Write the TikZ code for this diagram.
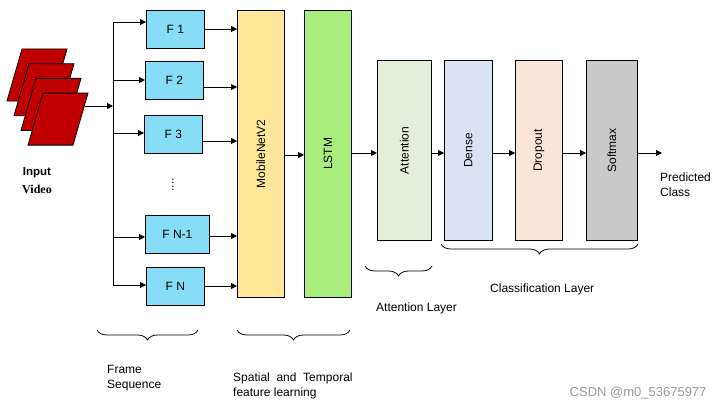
\documentclass[tikz,border=0pt]{standalone}
\usepackage{fontspec}
\setmainfont{Liberation Sans}
\newfontfamily\serifv{Liberation Serif}
\usetikzlibrary{arrows.meta,decorations.pathreplacing}
\definecolor{framered}{HTML}{C00000}
\definecolor{fbox}{HTML}{87DDF5}
\definecolor{mobc}{HTML}{FFE699}
\definecolor{lstmc}{HTML}{A9EE7D}
\definecolor{attc}{HTML}{E2EFDA}
\definecolor{densec}{HTML}{DAE3F3}
\definecolor{dropc}{HTML}{FBE5D6}
\definecolor{softc}{HTML}{C9C9C9}
\begin{document}
\begin{tikzpicture}[x=1pt,y=-1pt,font=\fontsize{12}{15}\selectfont,
  arr/.style={-{Triangle[length=6pt,width=6pt]},line width=0.9pt},
  fr/.style={draw=black,fill=fbox,thick,minimum width=58pt,minimum height=38pt,anchor=north west,inner sep=0pt},
  blk/.style={draw=black,thick,minimum width=#1,anchor=north west,inner sep=0pt},
  vtext/.style={rotate=90},
  frame/.style={draw=black,fill=framered,thick},
  brace/.style={decorate,decoration={brace,amplitude=10pt,mirror},thick}]
\useasboundingbox (0,0) rectangle (723,412);
% input frames
\foreach \i in {0,1,2,3}{
  \draw[frame] ({22+7*\i},{49+14.7*\i}) -- ++(45,0) -- ++(-15,52) -- ++(-45,0) -- cycle;}
\coordinate (vid) at (85,106);
\coordinate (split) at (113,106);
\node[font=\fontsize{11.5}{13}\selectfont\bfseries] (in) at (37,173) {Input};
\node[font=\fontsize{12}{13}\serifv\bfseries] (vd) at (37,189) {Video};
\draw[arr] (vid) -- (split);
% frame boxes
\node[fr] (f1) at (146,10) {F 1};
\node[fr] (f2) at (145,61) {F 2};
\node[fr] (f3) at (144,115) {F 3};
\node[fr,minimum width=64pt] (f4) at (145,215) {F N-1};
\node[fr] (f5) at (146,267) {F N};
\node[inner sep=0pt,rotate=90] (dots) at (173,185) {....};
\draw[thick] (113,22) -- (113,285);
\foreach \n/\y in {f1/22,f2/80,f3/133,f4/237,f5/285}{
  \coordinate (b\n) at (113,\y);
  \draw[arr] (b\n) -- (\n.west |- b\n);}
% main blocks
\node[blk=47pt,fill=mobc,minimum height=287pt] (mob) at (237,10) {};
\node[vtext] at (mob.center) {MobileNetV2};
\node[blk=47pt,fill=lstmc,minimum height=287pt] (lstm) at (304,10) {};
\node[vtext] at (lstm.center) {LSTM};
\node[blk=54pt,fill=attc,minimum height=180pt] (att) at (377,60) {};
\node[vtext] at (att.center) {Attention};
\node[blk=48pt,fill=densec,minimum height=180pt] (den) at (444,60) {};
\node[vtext] at (den.center) {Dense};
\node[blk=47pt,fill=dropc,minimum height=180pt] (drp) at (515,60) {};
\node[vtext] at (drp.center) {Dropout};
\node[blk=51pt,fill=softc,minimum height=180pt] (sft) at (586,60) {};
\node[vtext] at (sft.center) {Softmax};
\foreach \n/\y in {f1/29,f2/87,f3/141,f5/286}{
  \draw[arr] (\n.east |- 0,\y) -- (mob.west |- 0,\y);}
\draw[arr] (f4.east |- 0,236) -- (mob.west |- 0,236);
\draw[arr] (mob.east |- 0,155) -- (lstm.west |- 0,155);
\draw[arr] (lstm.east |- 0,153) -- (att.west |- 0,153);
\draw[arr] (att.east |- 0,153) -- (den.west |- 0,153);
\draw[arr] (den.east |- 0,153) -- (drp.west |- 0,153);
\draw[arr] (drp.east |- 0,153) -- (sft.west |- 0,153);
\coordinate (out) at (662,153);
\draw[arr] (sft.east |- out) -- (out);
\node[align=left,anchor=west,inner sep=0pt] (pc) at (660,185) {Predicted\\Class};
% braces
\draw[brace] (97,330) -- (198,330);
\node[align=left,anchor=north west,inner sep=0pt] (l1) at (107,365) {Frame\\Sequence};
\draw[brace] (237,330) -- (350,330);
\node[align=left,anchor=north west,inner sep=0pt] (l2) at (233,373) {Spatial\ \ and\ \ Temporal\\feature learning};
\draw[brace] (365,266) -- (432,266);
\node[anchor=north west,inner sep=0pt] (l3) at (376,303) {Attention Layer};
\draw[brace] (441,244) -- (638,244);
\node[anchor=north west,inner sep=0pt] (l4) at (490,284) {Classification Layer};
\node[anchor=east,text=gray!80,font=\fontsize{13}{14}\selectfont] (wm) at (710,393) {CSDN @m0\_53675977};
\end{tikzpicture}
\end{document}
